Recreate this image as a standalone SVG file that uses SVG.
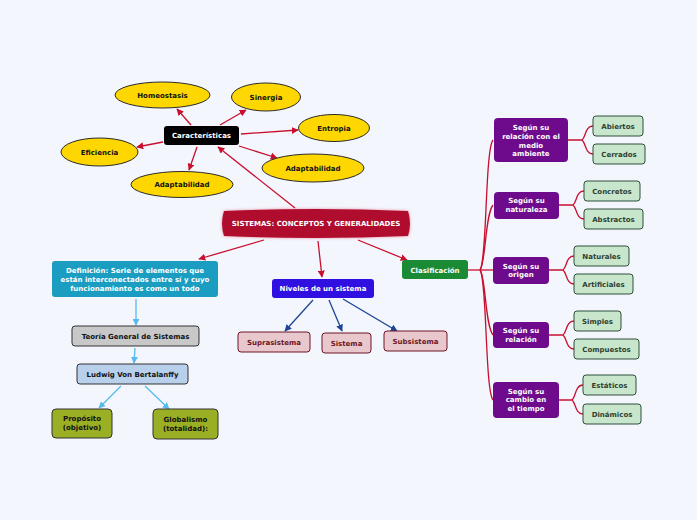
<svg xmlns="http://www.w3.org/2000/svg" width="697" height="520" viewBox="0 0 697 520">
<defs>
<style>
text{font-family:"DejaVu Sans","Liberation Sans",sans-serif;font-weight:bold;font-size:7px;text-anchor:middle}
.w{fill:#ffffff}
.k{fill:#111111}
.ell{fill:#FFD700;stroke:#2a2a2a;stroke-width:1}
.red{stroke:#C8102E;stroke-width:1.3;fill:none}
.rl{stroke:#C8102E;stroke-width:1.3;fill:none;marker-end:url(#ar)}
.bl{stroke:#1E4494;stroke-width:1.3;fill:none;marker-end:url(#ab)}
.lb{stroke:#55BBEE;stroke-width:1.3;fill:none;marker-end:url(#al)}
.pink{fill:#E8C8CC;stroke:#6E1426;stroke-width:1}
.pt{fill:#6E1426}
.purp{fill:#6E0B8C}
.leaf{fill:#C8E6CC;stroke:#2F4F3A;stroke-width:1}
.lt{fill:#2F3F33}
.olive{fill:#9AAF24;stroke:#333333;stroke-width:1}
</style>
<marker id="ar" viewBox="0 0 10 10" refX="9" refY="5" markerWidth="7" markerHeight="7" orient="auto" markerUnits="userSpaceOnUse"><path d="M0,0 L10,5 L0,10 z" fill="#C8102E"/></marker>
<marker id="ab" viewBox="0 0 10 10" refX="9" refY="5" markerWidth="7" markerHeight="7" orient="auto" markerUnits="userSpaceOnUse"><path d="M0,0 L10,5 L0,10 z" fill="#1E4494"/></marker>
<marker id="al" viewBox="0 0 10 10" refX="9" refY="5" markerWidth="7" markerHeight="7" orient="auto" markerUnits="userSpaceOnUse"><path d="M0,0 L10,5 L0,10 z" fill="#55BBEE"/></marker>
<filter id="glow" x="-10%" y="-40%" width="120%" height="180%"><feGaussianBlur in="SourceAlpha" stdDeviation="2"/><feFlood flood-color="#E04060" flood-opacity="0.6"/><feComposite operator="in" in2="SourceAlpha"/><feGaussianBlur stdDeviation="1.5"/><feMerge><feMergeNode/><feMergeNode in="SourceGraphic"/></feMerge></filter>
</defs>
<rect width="697" height="520" fill="#F3F6FD"/>

<g id="connectors">
<path class="rl" d="M295,208 L218,147"/>
<path class="rl" d="M191,125 L177,109"/>
<path class="rl" d="M220,125 L246,110"/>
<path class="rl" d="M241,134 L298,130"/>
<path class="rl" d="M239,146 L277,158"/>
<path class="rl" d="M197,147 L189,170"/>
<path class="rl" d="M163,142 L137,147"/>
<path class="rl" d="M264,240 L199,259"/>
<path class="rl" d="M318,241 L322,277"/>
<path class="rl" d="M358,240 L407,260"/>
<path class="bl" d="M313,300 L285,331"/>
<path class="bl" d="M329,300 L342,331"/>
<path class="bl" d="M343,299 L397,331"/>
<path class="lb" d="M136,299 L136,325"/>
<path class="lb" d="M135,348 L134,363"/>
<path class="lb" d="M121,386 L99,408"/>
<path class="lb" d="M145,386 L169,409"/>
<path class="red" d="M468,270 L493,270"/>
<path class="red" d="M480,270 C487,262 485,150 493,140"/>
<path class="red" d="M480,270 C486,262 485,215 493,205"/>
<path class="red" d="M480,270 C486,278 485,325 493,335"/>
<path class="red" d="M480,270 C487,278 485,390 493,400"/>
<path class="red" d="M568,140 L582,140 M582,140 C586,137 585,126 593,126 M582,140 C586,143 585,154 593,154"/>
<path class="red" d="M559,205 L573,205 M573,205 C577,202 576,191 584,191 M573,205 C577,208 576,219 584,219"/>
<path class="red" d="M549,270 L563,270 M563,270 C567,267 566,256 574,256 M563,270 C567,273 566,284 574,284"/>
<path class="red" d="M549,335 L563,335 M563,335 C567,332 566,321 574,321 M563,335 C567,338 566,349 574,349"/>
<path class="red" d="M559,400 L572,400 M572,400 C576,397 575,385 583,385 M572,400 C576,403 575,414 583,414"/>
</g>

<g id="central">
<path d="M224,211 Q316,207 408,211 Q412,223.5 408,236 Q316,240 224,236 Q220,223.5 224,211 Z" fill="#B00B2E" filter="url(#glow)"/>
<text x="316" y="226" class="w">SISTEMAS: CONCEPTOS Y GENERALIDADES</text>
</g>

<g id="caracteristicas">
<rect x="164" y="126" width="75" height="19" rx="3" fill="#000000"/>
<text x="201.5" y="138" class="w">Características</text>
</g>
<g id="homeostasis"><ellipse class="ell" cx="162.5" cy="95" rx="47.5" ry="13"/><text x="162.5" y="97.5" class="k">Homeostasis</text></g>
<g id="sinergia"><ellipse class="ell" cx="266" cy="97" rx="34.5" ry="14"/><text x="266" y="99.5" class="k">Sinergia</text></g>
<g id="entropia"><ellipse class="ell" cx="334" cy="128" rx="35.5" ry="13.5"/><text x="334" y="130.5" class="k">Entropia</text></g>
<g id="eficiencia"><ellipse class="ell" cx="99.5" cy="152" rx="38.5" ry="14"/><text x="99.5" y="154.5" class="k">Eficiencia</text></g>
<g id="adaptabilidad1"><ellipse class="ell" cx="182" cy="184.5" rx="51" ry="13"/><text x="182" y="187" class="k">Adaptabilidad</text></g>
<g id="adaptabilidad2"><ellipse class="ell" cx="313" cy="168" rx="51" ry="14"/><text x="313" y="170.5" class="k">Adaptabilidad</text></g>

<g id="definicion">
<rect x="52" y="261" width="166" height="36" rx="3" fill="#1A9DC0"/>
<text x="135" y="273" class="w">Definición: Serie de elementos que</text>
<text x="135" y="282" class="w">están interconectados entre sí y cuyo</text>
<text x="135" y="291" class="w">funcionamiento es como un todo</text>
</g>
<g id="teoria"><rect x="72" y="326" width="127" height="20" rx="3" fill="#C8C8C8" stroke="#333333"/><text x="135.5" y="338.5" class="k">Teoría General de Sistemas</text></g>
<g id="ludwig"><rect x="77" y="364" width="111" height="20" rx="3" fill="#B8D0EC" stroke="#333333"/><text x="132.5" y="376.5" class="k">Ludwig Von Bertalanffy</text></g>
<g id="proposito"><rect class="olive" x="52" y="409" width="60" height="29" rx="4"/><text x="82" y="421" class="k">Propósito</text><text x="82" y="430" class="k">(objetivo)</text></g>
<g id="globalismo"><rect class="olive" x="153" y="409" width="65" height="30" rx="4"/><text x="185.5" y="422" class="k">Globalismo</text><text x="185.5" y="431" class="k">(totalidad):</text></g>

<g id="niveles"><rect x="272" y="279" width="102" height="19" rx="3" fill="#3010E0"/><text x="323" y="291" class="w">Niveles de un sistema</text></g>
<g id="suprasistema"><rect class="pink" x="238" y="332" width="72" height="20" rx="3"/><text x="274" y="344.5" class="pt">Suprasistema</text></g>
<g id="sistema"><rect class="pink" x="322" y="333" width="49" height="20" rx="3"/><text x="346.5" y="345.5" class="pt">Sistema</text></g>
<g id="subsistema"><rect class="pink" x="384" y="331" width="63" height="20" rx="3"/><text x="415.5" y="343.5" class="pt">Subsistema</text></g>

<g id="clasificacion"><rect x="402" y="260" width="66" height="19" rx="3" fill="#1B8A35"/><text x="435" y="272.5" class="w">Clasificación</text></g>

<g id="medio"><rect class="purp" x="494" y="118" width="74" height="44" rx="4"/>
<text x="531" y="130" class="w">Según su</text><text x="531" y="139" class="w">relación con el</text><text x="531" y="147.5" class="w">medio</text><text x="531" y="156" class="w">ambiente</text></g>
<g id="naturaleza"><rect class="purp" x="494" y="192" width="65" height="27" rx="4"/><text x="526.5" y="203" class="w">Según su</text><text x="526.5" y="212" class="w">naturaleza</text></g>
<g id="origen"><rect class="purp" x="493" y="257" width="56" height="27" rx="4"/><text x="521" y="268.5" class="w">Según su</text><text x="521" y="277" class="w">origen</text></g>
<g id="relacion"><rect class="purp" x="493" y="322" width="56" height="26" rx="4"/><text x="521" y="333" class="w">Según su</text><text x="521" y="341.5" class="w">relación</text></g>
<g id="cambio"><rect class="purp" x="493" y="382" width="66" height="36" rx="4"/><text x="526" y="393.5" class="w">Según su</text><text x="526" y="402" class="w">cambio en</text><text x="526" y="411" class="w">el tiempo</text></g>

<g id="abiertos"><rect class="leaf" x="593" y="116" width="50" height="20" rx="3"/><text x="618" y="128.5" class="lt">Abiertos</text></g>
<g id="cerrados"><rect class="leaf" x="593" y="144" width="52" height="20" rx="3"/><text x="619" y="156.5" class="lt">Cerrados</text></g>
<g id="concretos"><rect class="leaf" x="584" y="181" width="56" height="20" rx="3"/><text x="612" y="193.5" class="lt">Concretos</text></g>
<g id="abstractos"><rect class="leaf" x="584" y="209" width="59" height="20" rx="3"/><text x="613.5" y="221.5" class="lt">Abstractos</text></g>
<g id="naturales"><rect class="leaf" x="574" y="246" width="55" height="20" rx="3"/><text x="601.5" y="258.5" class="lt">Naturales</text></g>
<g id="artificiales"><rect class="leaf" x="574" y="274" width="59" height="20" rx="3"/><text x="603.5" y="286.5" class="lt">Artificiales</text></g>
<g id="simples"><rect class="leaf" x="574" y="311" width="47" height="20" rx="3"/><text x="597.5" y="323.5" class="lt">Simples</text></g>
<g id="compuestos"><rect class="leaf" x="574" y="339" width="65" height="20" rx="3"/><text x="606.5" y="351.5" class="lt">Compuestos</text></g>
<g id="estaticos"><rect class="leaf" x="583" y="375" width="53" height="20" rx="3"/><text x="609.5" y="387.5" class="lt">Estáticos</text></g>
<g id="dinamicos"><rect class="leaf" x="583" y="404" width="58" height="20" rx="3"/><text x="612" y="416.5" class="lt">Dinámicos</text></g>
</svg>
